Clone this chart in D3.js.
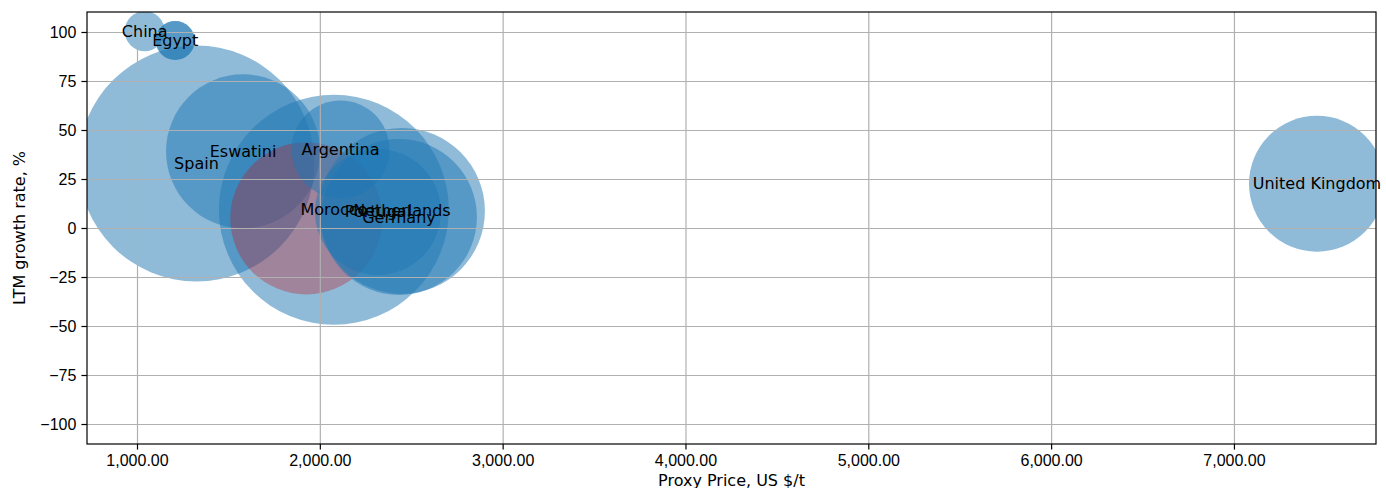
<!DOCTYPE html>
<html>
<head>
<meta charset="utf-8">
<script src="https://cdn.jsdelivr.net/npm/d3@7"></script>
<style>
  body { margin: 0; background: #fff; }
  svg { font-family: "DejaVu Sans", sans-serif; }
  .axis text { font-size: 16px; fill: #000; }
  .axis path, .axis line { stroke: #000; stroke-width: 1.2px; }
  .grid line { stroke: #b0b0b0; stroke-width: 1.2px; }
  .grid path { display: none; }
</style>
</head>
<body>
<div class="container"></div>
<script>
/* Chart data */
const countries = ["China", "Egypt", "Egypt", "Spain", "Eswatini", "Morocco", "", "Argentina", "Portugal", "Germany", "Netherlands", "United Kingdom"];
const proxyPrice = [1042, 1209, 1209, 1325, 1580, 2077, 1926, 2113, 2318, 2433, 2449, 7454];
const growthRate = [100.4, 95.7, 95.7, 32.9, 39.1, 9.3, 4.9, 40.1, 8.2, 5.6, 8.7, 22.6];
const volume = [40, 38, 38, 1392, 593, 1323, 578, 240, 397, 608, 689, 462];
const highlighted = [false, false, false, false, false, false, true, false, false, false, false, false];

const xTicks = [1000, 2000, 3000, 4000, 5000, 6000, 7000];
const yTicks = [-100, -75, -50, -25, 0, 25, 50, 75, 100];

const dataset = countries.map((c, i) => ({
    country: c,
    price: proxyPrice[i],
    growth: growthRate[i],
    volume: volume[i],
    highlight: highlighted[i]
}));

const w = 1386;
const h = 488;
const margin = { top: 12, right: 10, bottom: 44, left: 87 };
const innerW = w - margin.left - margin.right;
const innerH = h - margin.top - margin.bottom;

/* Scales */
const xScale = d3.scaleLinear()
                 .domain([726.5, 7777])
                 .range([0, innerW]);
const yScale = d3.scaleLinear()
                 .domain([-110.2, 110.2])
                 .range([innerH, 0]);
const rScale = d3.scaleSqrt()
                 .domain([0, 1400])
                 .range([0, 118.3]);

const svg = d3.select(".container")
              .append("svg")
              .attr("width", w)
              .attr("height", h);

svg.append("defs")
   .append("clipPath")
   .attr("id", "plot-clip")
   .append("rect")
   .attr("width", innerW)
   .attr("height", innerH);

const g = svg.append("g")
             .attr("transform", "translate(" + margin.left + "," + margin.top + ")");

/* Bubbles */
g.append("g")
 .attr("clip-path", "url(#plot-clip)")
 .selectAll("circle")
 .data(dataset)
 .enter()
 .append("circle")
 .attr("cx", (d) => xScale(d.price))
 .attr("cy", (d) => yScale(d.growth))
 .attr("r", (d) => rScale(d.volume))
 .attr("fill", (d) => d.highlight ? "#c0141e" : "#1f77b4")
 .attr("fill-opacity", (d) => d.highlight ? 0.33 : 0.5);

/* Grid lines drawn over the bubbles, like matplotlib */
g.append("g")
 .attr("class", "grid")
 .attr("transform", "translate(0," + innerH + ")")
 .call(d3.axisBottom(xScale).tickValues(xTicks).tickSize(-innerH).tickFormat(""));
g.append("g")
 .attr("class", "grid")
 .call(d3.axisLeft(yScale).tickValues(yTicks).tickSize(-innerW).tickFormat(""));

/* Country labels (one per name) */
const labelled = dataset.filter((d, i) => d.country !== "" && countries.indexOf(d.country) === i);
g.selectAll(".label")
 .data(labelled)
 .enter()
 .append("text")
 .attr("class", "label")
 .attr("x", (d) => xScale(d.price))
 .attr("y", (d) => yScale(d.growth))
 .attr("text-anchor", "middle")
 .attr("dominant-baseline", "central")
 .style("font-size", "16px")
 .text((d) => d.country);

/* Axes */
const xAxis = d3.axisBottom(xScale)
                .tickValues(xTicks)
                .tickSize(5.6)
                .tickPadding(5)
                .tickFormat(d3.format(",.2f"));
const yAxis = d3.axisLeft(yScale)
                .tickValues(yTicks)
                .tickSize(5.6)
                .tickPadding(5);

g.append("g")
 .attr("class", "axis")
 .attr("transform", "translate(0," + innerH + ")")
 .call(xAxis)
 .call((a) => a.select(".domain").remove());
g.append("g")
 .attr("class", "axis")
 .call(yAxis)
 .call((a) => a.select(".domain").remove());

/* Frame (spines) */
g.append("rect")
 .attr("width", innerW)
 .attr("height", innerH)
 .attr("fill", "none")
 .attr("stroke", "#000")
 .attr("stroke-width", 1.2);

/* Axis titles */
svg.append("text")
   .attr("x", margin.left + innerW / 2)
   .attr("y", 486)
   .attr("text-anchor", "middle")
   .style("font-size", "16px")
   .text("Proxy Price, US $/t");
svg.append("text")
   .attr("transform", "translate(25," + (margin.top + innerH / 2) + ") rotate(-90)")
   .attr("text-anchor", "middle")
   .style("font-size", "16px")
   .text("LTM growth rate, %");
</script>
</body>
</html>
